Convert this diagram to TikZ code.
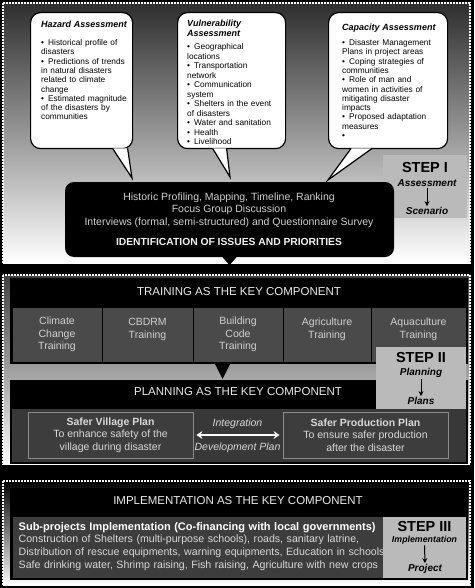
\documentclass[tikz,border=0pt]{standalone}
\usepackage{fontspec}
\setmainfont{Liberation Sans}
\usetikzlibrary{positioning,arrows.meta}

% bullet line with hanging indent
\newcommand\bpoint[1]{\par\hangindent=7pt\hangafter=1\noindent\hbox to 7pt{\textbullet\hfil}#1}
\newcommand\bubblehead[1]{{\fontsize{9}{10}\selectfont\bfseries\itshape #1\par}}

\tikzset{
  panel/.style={draw=white, line width=1.4pt, dash pattern=on 1.6pt off 1.4pt},
  bubble/.style={draw=black, fill=white, line width=1.2pt, rounded corners=10pt, anchor=north west, inner sep=0pt},
  tail/.style={draw=black, fill=white, line width=1.2pt},
  bubbletext/.style={anchor=north west, inner sep=0pt, align=left, text width=#1, font=\fontsize{8.3}{9.3}\selectfont},
  methodtext/.style={inner sep=0pt, align=center, text=black!18, font=\fontsize{10.5}{12.5}\selectfont},
  headtext/.style={inner sep=0pt, text=black!8, font=\fontsize{11.5}{13}\selectfont},
  trainbox/.style={draw=black, fill=black!71, line width=1pt, minimum height=55pt, inner sep=0pt, align=center, text=black!18, font=\fontsize{10.5}{12.5}\selectfont},
  planbox/.style={draw=black!45, fill=black!76, line width=0.9pt, minimum width=165pt, minimum height=46pt, inner sep=0pt, align=center, text=black!15, font=\fontsize{10.5}{12.5}\selectfont},
  linklabel/.style={inner sep=0pt, text=black!15, font=\fontsize{10.5}{12}\selectfont\itshape},
  link/.style={{Stealth[length=6pt,width=8pt]}-{Stealth[length=6pt,width=8pt]}, draw=white, line width=2.2pt, shorten <=3pt, shorten >=3pt},
  stepbox/.style={fill=black!27, inner sep=0pt},
  steptitle/.style={inner sep=1pt, font=\fontsize{14.5}{15}\selectfont\bfseries},
  steptext/.style={inner sep=1pt, font=\fontsize{10}{11}\selectfont\bfseries\itshape},
  steparrow/.style={-{Stealth[length=5pt,width=5pt]}, line width=1pt}
}

\begin{document}
\begin{tikzpicture}[x=1pt,y=-1pt]

	% Background
	\path[use as bounding box, fill=black] (0,0) rectangle (474,588);

	% Step I panel
	\shade[top color=black!82, bottom color=white] (3,3) rectangle (470,263);
	\draw[panel] (3,3) rectangle (470,263);

	% Assessment callouts
	\node[bubble, minimum width=102pt, minimum height=136pt] (hazard) at (30,12) {};
	\coordinate (hazardtip) at (132,178);
	\filldraw[tail] ([xshift=31pt,yshift=0.8pt]hazard.south) -- (hazardtip) -- ([xshift=46pt,yshift=0.8pt]hazard.south);
	\node[bubbletext=95pt] (hazardtext) at (41,21) {%
		\bubblehead{Hazard Assessment}\vspace{8.5pt}
		\bpoint{Historical profile of\\disasters}
		\bpoint{Predictions of trends\\in natural disasters\\related to climate\\change}
		\bpoint{Estimated magnitude\\of the disasters by\\communities}};

	\node[bubble, minimum width=108pt, minimum height=136pt] (vulner) at (177,12) {};
	\coordinate (vulnertip) at (230,177);
	\filldraw[tail] ([xshift=-19pt,yshift=0.8pt]vulner.south) -- (vulnertip) -- ([xshift=-5pt,yshift=0.8pt]vulner.south);
	\node[bubbletext=100pt, font=\fontsize{8.3}{9.5}\selectfont] (vulnertext) at (187,20) {%
		\bubblehead{Vulnerability\\Assessment}\vspace{3.5pt}
		\bpoint{Geographical\\locations}
		\bpoint{Transportation\\network}
		\bpoint{Communication\\system}
		\bpoint{Shelters in the event\\of disasters}
		\bpoint{Water and sanitation}
		\bpoint{Health}
		\bpoint{Livelihood}};

	\node[bubble, minimum width=119pt, minimum height=136pt] (capacity) at (328,12) {};
	\coordinate (capacitytip) at (328,180);
	\filldraw[tail] ([xshift=-37pt,yshift=0.8pt]capacity.south) -- (capacitytip) -- ([xshift=-16pt,yshift=0.8pt]capacity.south);
	\node[bubbletext=105pt] (capacitytext) at (342,24) {%
		\bubblehead{Capacity Assessment}\vspace{5.5pt}
		\bpoint{Disaster Management\\Plans in project areas}
		\bpoint{Coping strategies of\\communities}
		\bpoint{Role of man and\\women in activities of\\mitigating disaster\\impacts}
		\bpoint{Proposed adaptation\\measures}
		\bpoint{}};

	% Step I label
	\node[stepbox, minimum width=84pt, minimum height=63pt] (step1box) at (425,186.5) {};
	\node[steptitle] (step1) at (425,168) {STEP I};
	\node[steptext] (assess) at (427,183) {Assessment};
	\node[steptext] (scenario) at (427,211) {Scenario};
	\draw[steparrow] (assess) -- (scenario);

	% Survey methods
	\node[fill=black, rounded corners=9pt, minimum width=329pt, minimum height=75pt, inner sep=0pt] (survey) at (229.5,219.5) {};
	\fill[black] ([xshift=-7pt]survey.south) -- ++(7,8) -- ++(7,-8) -- cycle;
	\node[methodtext] (methods) at (229,210) {Historic Profiling, Mapping, Timeline, Ranking\\Focus Group Discussion\\Interviews (formal, semi-structured) and Questionnaire Survey};
	\node[methodtext, text=black!5, font=\fontsize{10.3}{12}\selectfont\bfseries] (issues) at (229,242) {IDENTIFICATION OF ISSUES AND PRIORITIES};

	% Step II panel
	\shade[top color=black!75, bottom color=white] (3,275) rectangle (470,464);
	\draw[panel] (3,275) rectangle (470,464);

	% Training
	\fill[black] (10,278) rectangle (468,364);
	\node[headtext] (traininghead) at (239,292) {TRAINING AS THE KEY COMPONENT};
	\node[trainbox, minimum width=90pt] (climate) at (57,334.5) {Climate\\Change\\Training};
	\node[trainbox, minimum width=91pt] (cbdrm) at (147.5,334.5) {CBDRM\\Training\\~};
	\node[trainbox, minimum width=90pt] (building) at (238,334.5) {Building\\Code\\Training};
	\node[trainbox, minimum width=88pt] (agri) at (327,334.5) {Agriculture\\Training\\~};
	\node[trainbox, minimum width=95pt] (aqua) at (418.5,334.5) {Aquaculture\\Training\\~};

	% Planning
	\fill[black] (10,379.5) rectangle (468,464);
	\node[headtext] (planninghead) at (238,392) {PLANNING AS THE KEY COMPONENT};
	\fill[black!78] (12,409) rectangle (466,462);
	\node[planbox] (village) at (110.5,435) {\textbf{Safer Village Plan}\\To enhance safety of the\\village during disaster};
	\node[planbox] (production) at (365.5,435) {\textbf{Safer Production Plan}\\To ensure safer production\\after the disaster};
	\draw[link] (village) -- (production);
	\node[linklabel] (integration) at (237.5,424) {Integration};
	\node[linklabel] (devplan) at (237.5,448) {Development Plan};

	\coordinate (trainpoint) at (222.5,379);
	\fill[black] (trainpoint) -- ++(-8.5,-17) -- ++(17,0) -- cycle;

	% Step II label
	\node[stepbox, minimum width=90pt, minimum height=62pt] (step2box) at (421,378) {};
	\node[steptitle] (step2) at (421,358) {STEP II};
	\node[steptext] (planning) at (421,373) {Planning};
	\node[steptext] (plans) at (421,401) {Plans};
	\draw[steparrow] (planning) -- (plans);

	% Step III panel
	\shade[top color=black, bottom color=white] (3,481) rectangle (470,585);
	\draw[panel] (3,481) rectangle (470,585);
	\fill[black] (10,488) rectangle (468,580);
	\node[headtext] (implhead) at (238,501) {IMPLEMENTATION AS THE KEY COMPONENT};
	\fill[black!76] (13,517) rectangle (383,578);
	\node[anchor=north west, inner sep=0pt, align=left, text width=440pt, text=black!15, font=\fontsize{10.6}{12.7}\selectfont] (subprojects) at (18.5,522) {%
		{\color{white}\fontsize{11}{12.7}\selectfont\bfseries Sub-projects Implementation (Co-financing with local governments)}\\
		Construction of Shelters (multi-purpose schools), roads, sanitary latrine,\\
		Distribution of rescue equipments, warning equipments, Education in schools\\
		Safe drinking water, Shrimp raising, Fish raising, Agriculture with new crops};

	% Step III label
	\node[stepbox, minimum width=83pt, minimum height=61pt] (step3box) at (424.5,547.5) {};
	\node[steptitle] (step3) at (424.5,527) {STEP III};
	\node[steptext, font=\fontsize{8.8}{10}\selectfont\bfseries\itshape] (implem) at (424.5,540) {Implementation};
	\node[steptext] (project) at (425,569) {Project};
	\draw[steparrow] (implem) -- (project);

\end{tikzpicture}
\end{document}
